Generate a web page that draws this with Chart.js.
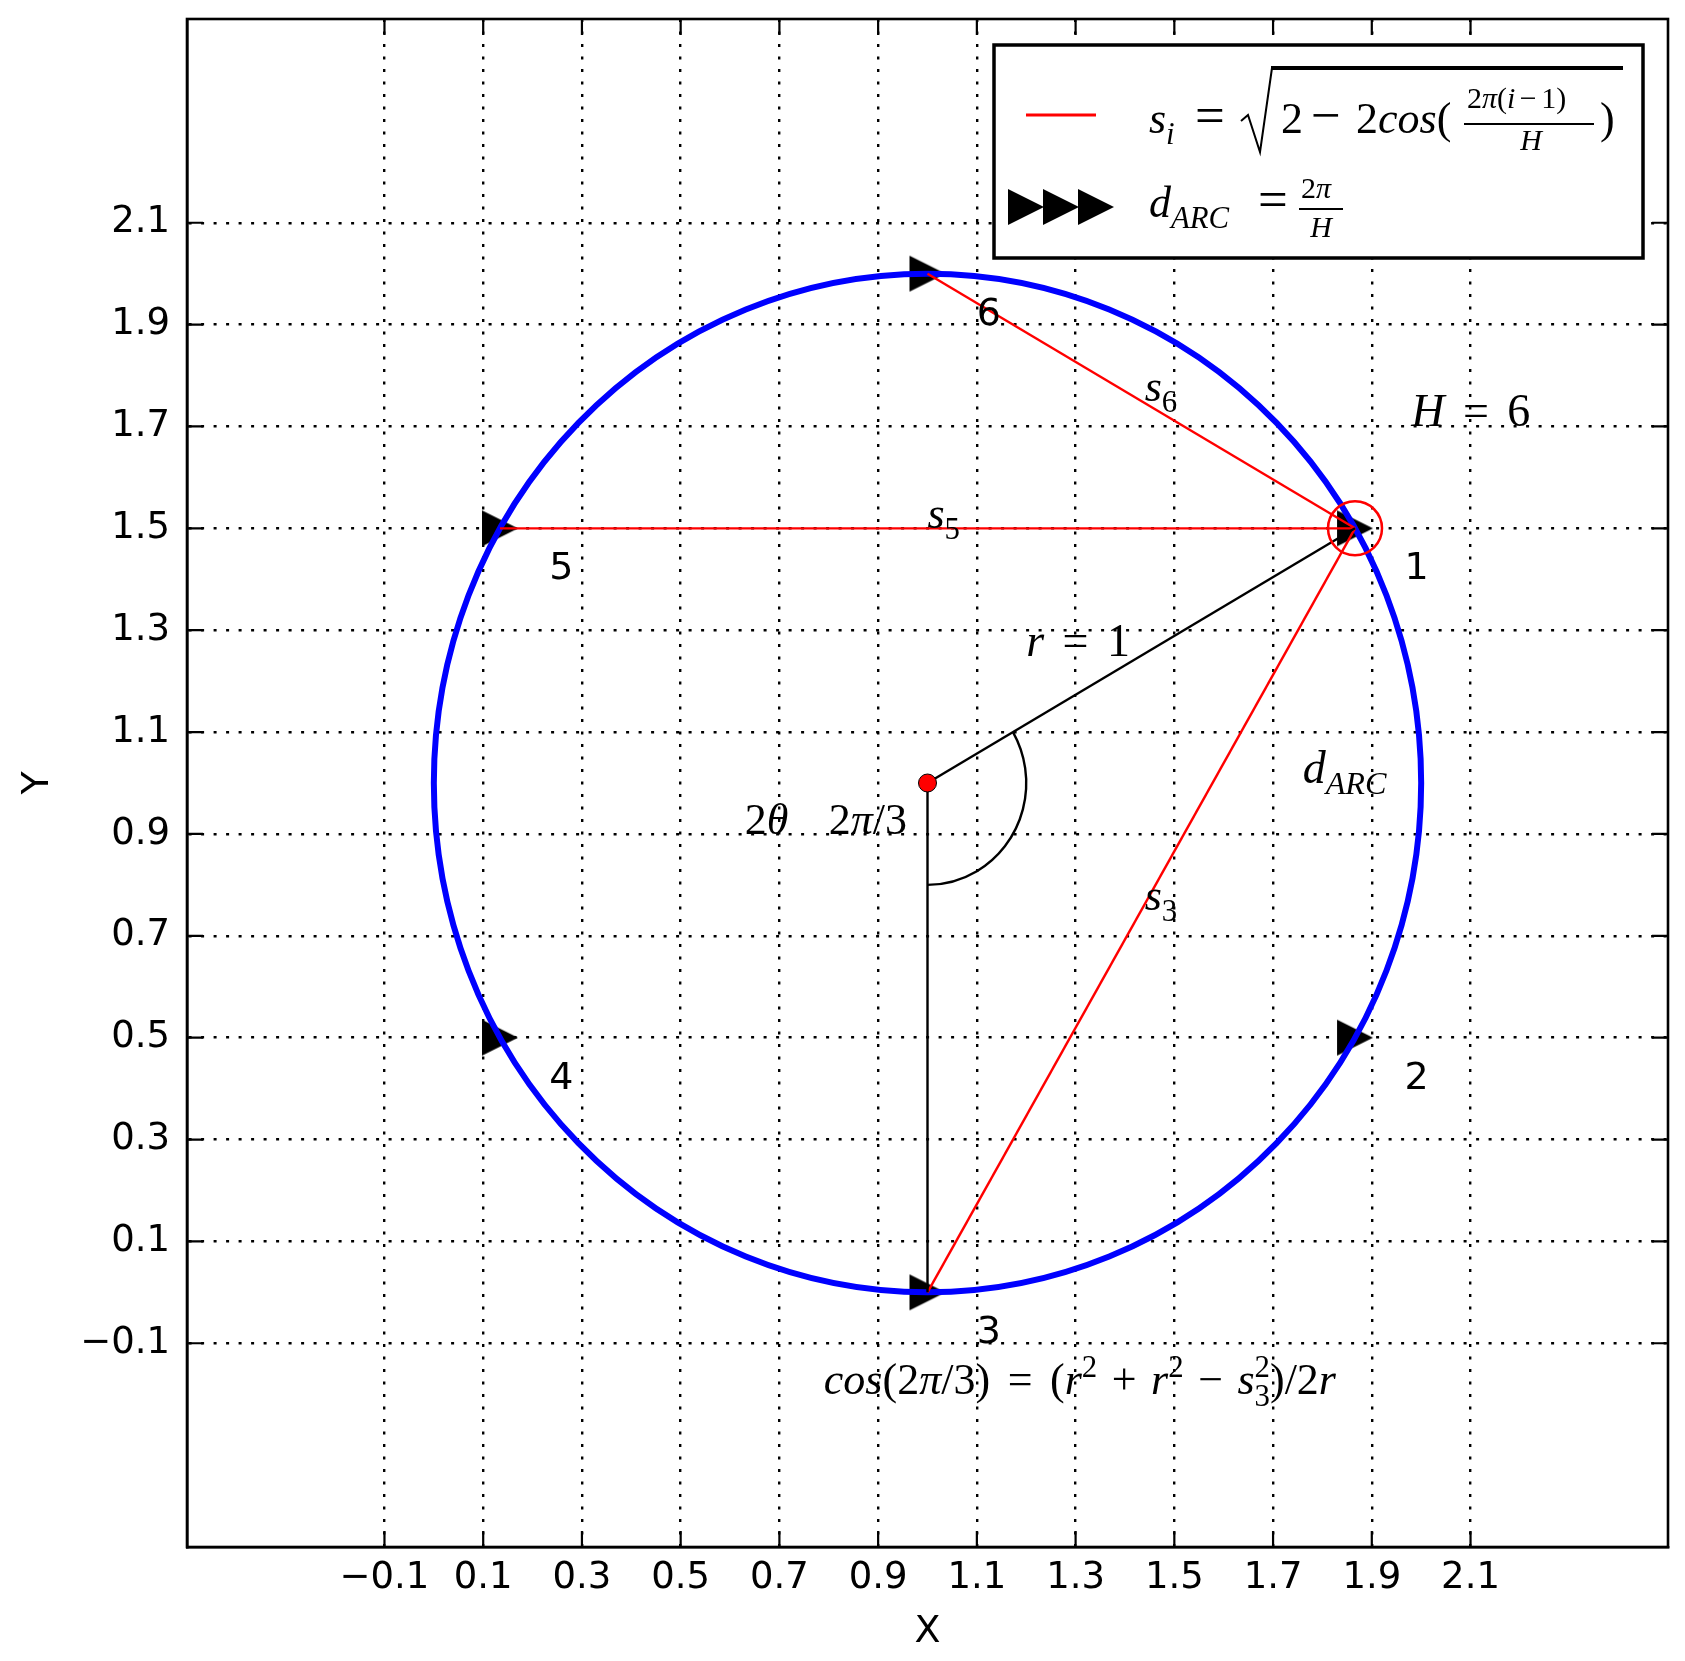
<!DOCTYPE html>
<html><head><meta charset="utf-8">
<script src="https://cdn.jsdelivr.net/npm/chart.js@4.4.1/dist/chart.umd.min.js"></script>
<style>html,body{margin:0;padding:0;background:#fff;} canvas{display:block;}</style>
</head><body>
<canvas id="c" width="1685" height="1661" style="width:1685px;height:1661px"></canvas>
<script>
// ---------- data ----------
const xTicks = [-0.1, 0.1, 0.3, 0.5, 0.7, 0.9, 1.1, 1.3, 1.5, 1.7, 1.9, 2.1];
const xTickLabels = ['−0.1', '0.1', '0.3', '0.5', '0.7', '0.9', '1.1', '1.3', '1.5', '1.7', '1.9', '2.1'];
const yTicks = [-0.1, 0.1, 0.3, 0.5, 0.7, 0.9, 1.1, 1.3, 1.5, 1.7, 1.9, 2.1];
const yTickLabels = ['−0.1', '0.1', '0.3', '0.5', '0.7', '0.9', '1.1', '1.3', '1.5', '1.7', '1.9', '2.1'];
const xRange = [-0.5, 2.5];
const yRange = [-0.5, 2.5];

const pointX = [1.866, 1.866, 1.0, 0.134, 0.134, 1.0];
const pointY = [1.5, 0.5, 0.0, 0.5, 1.5, 2.0];
const pointNames = ['1', '2', '3', '4', '5', '6'];
const pointLabelX = [1.966, 1.966, 1.1, 0.234, 0.234, 1.1];
const pointLabelY = [1.4, 0.4, -0.1, 0.4, 1.4, 1.9];

const chordS6X = [1.866, 1.0];   const chordS6Y = [1.5, 2.0];
const chordS5X = [1.866, 0.134]; const chordS5Y = [1.5, 1.5];
const chordS3X = [1.866, 1.0];   const chordS3Y = [1.5, 0.0];
const radiusX = [1.0, 1.866];    const radiusY = [1.0, 1.5];
const dropX = [1.0, 1.0];        const dropY = [1.0, 0.0];
const centerX = [1.0];           const centerY = [1.0];
const highlightX = [1.866];      const highlightY = [1.5];

const circleCx = 1.0, circleCy = 1.0, circleR = 1.0;
const arcR = 0.2, arcFromDeg = -90, arcToDeg = 30;

// math annotations: [text, kind]  kinds: i italic, r roman, sb sub italic, sbr sub roman, sp sup, ss sub|sup, g gap(em)
const annotations = [
  {x: 1.44, y: 1.75, size: 44, parts: [['s','i'], ['6','sbr']]},
  {x: 1.0,  y: 1.5,  size: 44, parts: [['s','i'], ['5','sbr']]},
  {x: 1.44, y: 0.75, size: 44, parts: [['s','i'], ['3','sbr']]},
  {x: 1.2,  y: 1.25, size: 46, parts: [['r','i'], [0.4,'g'], ['=','r'], [0.4,'g'], ['1','r']]},
  {x: 1.98, y: 1.7,  size: 46, parts: [['H','i'], [0.4,'g'], ['=','r'], [0.4,'g'], ['6','r']]},
  {x: 1.76, y: 1.0,  size: 46, parts: [['d','i'], ['ARC','sb']]},
  {x: 0.63, y: 0.9,  size: 44, parts: [['2','r'], ['θ','i']]},
  {x: 0.8,  y: 0.9,  size: 44, parts: [['2','r'], ['π','i'], ['/','r'], ['3','r']]},
  {x: 0.79, y: -0.2, size: 44, parts: [['cos','i'], ['(','r'], ['2','r'], ['π','i'], ['/','r'], ['3','r'], [')','r'],
      [0.4,'g'], ['=','r'], [0.4,'g'], ['(','r'], ['r','i'], ['2','sp'], [0.33,'g'], ['+','r'], [0.33,'g'],
      ['r','i'], ['2','sp'], [0.33,'g'], ['−','r'], [0.33,'g'], ['s','i'], ['3|2','ss'], [')','r'], ['/','r'], ['2','r'], ['r','i']]}
];

// ---------- helpers ----------
const toXY = (xs, ys) => xs.map((x, i) => ({x: x, y: ys[i]}));
function mathFont(size, italic) {
  return (italic ? 'italic ' : '') + size + 'px "Liberation Serif", "DejaVu Serif", serif';
}
function drawMath(ctx, parts, x, y, size) {
  let cx = x;
  ctx.textAlign = 'left';
  ctx.textBaseline = 'alphabetic';
  for (const p of parts) {
    const t = p[0], k = p[1];
    if (k === 'g') { cx += t * size; continue; }
    if (k === 'ss') {
      const ab = t.split('|');
      const s = size * 0.7;
      ctx.font = mathFont(s, false);
      const w1 = ctx.measureText(ab[0]).width, w2 = ctx.measureText(ab[1]).width;
      ctx.fillText(ab[0], cx, y + size * 0.27);
      ctx.fillText(ab[1], cx, y - size * 0.4);
      cx += Math.max(w1, w2);
      continue;
    }
    let s = size, dy = 0, it = false;
    if (k === 'i') it = true;
    if (k === 'sb') { s = size * 0.7; dy = size * 0.24; it = true; }
    if (k === 'sbr') { s = size * 0.7; dy = size * 0.24; }
    if (k === 'sp') { s = size * 0.7; dy = -size * 0.4; }
    ctx.font = mathFont(s, it);
    ctx.fillText(t, cx, y + dy);
    cx += ctx.measureText(t).width;
  }
  return cx;
}
function centeredText(ctx, t, cx, y, size, italic) {
  ctx.font = mathFont(size, italic);
  ctx.textAlign = 'center';
  ctx.textBaseline = 'alphabetic';
  ctx.fillText(t, cx, y);
}
function makeTriangle(w, h) {
  const c = document.createElement('canvas');
  c.width = w; c.height = h;
  const g = c.getContext('2d');
  g.fillStyle = '#000';
  g.beginPath();
  g.moveTo(1, 1); g.lineTo(w - 1, h / 2); g.lineTo(1, h - 1);
  g.closePath(); g.fill();
  return c;
}
const triangle = makeTriangle(38, 38);

// ---------- plugin ----------
const drawPlugin = {
  id: 'drawPlugin',
  beforeDatasetsDraw(chart) {
    const {ctx, chartArea: a, scales: {x, y}} = chart;
    ctx.save();
    ctx.strokeStyle = '#000';
    ctx.lineWidth = 2.2;
    const tl = 16;
    ctx.beginPath();
    xTicks.forEach(v => {
      const px = x.getPixelForValue(v);
      ctx.moveTo(px, a.bottom); ctx.lineTo(px, a.bottom - tl);
      ctx.moveTo(px, a.top); ctx.lineTo(px, a.top + tl);
    });
    yTicks.forEach(v => {
      const py = y.getPixelForValue(v);
      ctx.moveTo(a.left, py); ctx.lineTo(a.left + tl, py);
      ctx.moveTo(a.right, py); ctx.lineTo(a.right - tl, py);
    });
    ctx.stroke();
    ctx.restore();
  },
  afterDatasetDraw(chart, args) {
    if (args.index !== 0) return;
    const {ctx, chartArea: a, scales: {x, y}} = chart;
    const cx = x.getPixelForValue(circleCx), cy = y.getPixelForValue(circleCy);
    ctx.save();
    ctx.beginPath();
    ctx.rect(a.left, a.top, a.right - a.left, a.bottom - a.top);
    ctx.clip();
    // blue circle
    const rx = x.getPixelForValue(circleCx + circleR) - cx;
    const ry = cy - y.getPixelForValue(circleCy + circleR);
    ctx.strokeStyle = '#0000ff';
    ctx.lineWidth = 6;
    ctx.beginPath();
    ctx.ellipse(cx, cy, rx, ry, 0, 0, Math.PI * 2);
    ctx.stroke();
    // angle arc
    const arx = x.getPixelForValue(circleCx + arcR) - cx;
    const ary = cy - y.getPixelForValue(circleCy + arcR);
    ctx.strokeStyle = '#000';
    ctx.lineWidth = 2.4;
    ctx.beginPath();
    ctx.ellipse(cx, cy, arx, ary, 0, -arcToDeg * Math.PI / 180, -arcFromDeg * Math.PI / 180);
    ctx.stroke();
    ctx.restore();
  },
  afterDatasetsDraw(chart) {
    const {ctx, chartArea: a, scales: {x, y}} = chart;
    ctx.save();
    // frame
    ctx.strokeStyle = '#000';
    ctx.lineWidth = 2.6;
    ctx.strokeRect(a.left, a.top, a.right - a.left, a.bottom - a.top);
    // point number labels
    ctx.fillStyle = '#000';
    ctx.font = '38px "DejaVu Sans"';
    ctx.textAlign = 'left';
    ctx.textBaseline = 'alphabetic';
    pointNames.forEach((n, i) => {
      ctx.fillText(n, x.getPixelForValue(pointLabelX[i]), y.getPixelForValue(pointLabelY[i]));
    });
    // math annotations
    annotations.forEach(an => {
      drawMath(ctx, an.parts, x.getPixelForValue(an.x), y.getPixelForValue(an.y), an.size);
    });
    // axis titles
    ctx.font = '38px "DejaVu Sans"';
    ctx.textAlign = 'center';
    ctx.textBaseline = 'middle';
    ctx.fillText('X', (a.left + a.right) / 2, 1632);
    ctx.save();
    ctx.translate(38, (a.top + a.bottom) / 2);
    ctx.rotate(-Math.PI / 2);
    ctx.fillText('Y', 0, 0);
    ctx.restore();

    // legend
    const lx = a.right - 674, ly = a.top + 26, lw = 649, lh = 213;
    ctx.fillStyle = '#fff';
    ctx.fillRect(lx, ly, lw, lh);
    ctx.strokeStyle = '#000';
    ctx.lineWidth = 3.5;
    ctx.strokeRect(lx, ly, lw, lh);
    ctx.fillStyle = '#000';
    // entry 1 handle
    ctx.strokeStyle = '#ff0000';
    ctx.lineWidth = 3;
    ctx.beginPath(); ctx.moveTo(lx + 32, ly + 70); ctx.lineTo(lx + 102, ly + 70); ctx.stroke();
    // entry 1 label: s_i = sqrt(2 - 2cos(2pi(i-1)/H))
    const S = 44, b1 = ly + 88;
    drawMath(ctx, [['s','i'], ['i','sb']], lx + 155, b1, S);
    drawMath(ctx, [['=','r']], lx + 201, b1, S * 1.2);
    ctx.strokeStyle = '#000';
    ctx.lineWidth = 2;
    ctx.beginPath();
    ctx.moveTo(lx + 247, ly + 76); ctx.lineTo(lx + 254, ly + 70);
    ctx.lineTo(lx + 266, ly + 107); ctx.lineTo(lx + 278, ly + 23);
    ctx.stroke();
    ctx.lineWidth = 4;
    ctx.beginPath(); ctx.moveTo(lx + 277, ly + 23); ctx.lineTo(lx + 629, ly + 23); ctx.stroke();
    drawMath(ctx, [['2','r']], lx + 287, b1, S);
    drawMath(ctx, [['−','r']], lx + 317, b1, S * 1.2);
    drawMath(ctx, [['2','r'], ['cos','i'], ['(','r']], lx + 362, b1, S);
    // fraction
    const fs = 30;
    drawMath(ctx, [['2','r'], ['π','i'], ['(','r'], ['i','i'], [0.15,'g'], ['−','r'], [0.15,'g'], ['1','r'], [')','r']], lx + 473, ly + 63, fs);
    ctx.lineWidth = 2;
    ctx.beginPath(); ctx.moveTo(lx + 470, ly + 79); ctx.lineTo(lx + 600, ly + 79); ctx.stroke();
    centeredText(ctx, 'H', lx + 537, ly + 105, fs, true);
    drawMath(ctx, [[')','r']], lx + 606, b1, S);
    // entry 2 handle: three triangles
    [32, 67, 102].forEach(dx => ctx.drawImage(triangle, lx + dx - 19, ly + 162 - 19));
    // entry 2 label: d_ARC = 2pi/H
    const b2 = ly + 172;
    drawMath(ctx, [['d','i'], ['ARC','sb']], lx + 155, b2, S);
    drawMath(ctx, [['=','r']], lx + 264, b2, S * 1.2);
    drawMath(ctx, [['2','r'], ['π','i']], lx + 307, ly + 153, fs);
    ctx.lineWidth = 2;
    ctx.beginPath(); ctx.moveTo(lx + 305, ly + 164); ctx.lineTo(lx + 349, ly + 164); ctx.stroke();
    centeredText(ctx, 'H', lx + 327, ly + 192, fs, true);
    ctx.restore();
  }
};

// ---------- chart ----------
const gridOpts = {color: '#000', lineWidth: 2.4, drawTicks: false};
const borderOpts = {display: true, color: '#000', width: 2.6, dash: [3, 9.5]};
const tickFont = {family: 'DejaVu Sans', size: 37};

new Chart(document.getElementById('c').getContext('2d'), {
  type: 'scatter',
  data: {
    datasets: [
      {label: 'points', data: toXY(pointX, pointY), pointStyle: triangle, pointRadius: 18, order: 10, showLine: false},
      {label: 's6', data: toXY(chordS6X, chordS6Y), showLine: true, borderColor: '#ff0000', borderWidth: 2.4, pointRadius: 0, order: 6},
      {label: 's5', data: toXY(chordS5X, chordS5Y), showLine: true, borderColor: '#ff0000', borderWidth: 2.4, pointRadius: 0, order: 6},
      {label: 's3', data: toXY(chordS3X, chordS3Y), showLine: true, borderColor: '#ff0000', borderWidth: 2.4, pointRadius: 0, order: 6},
      {label: 'radius', data: toXY(radiusX, radiusY), showLine: true, borderColor: '#000', borderWidth: 2.4, pointRadius: 0, order: 5},
      {label: 'drop', data: toXY(dropX, dropY), showLine: true, borderColor: '#000', borderWidth: 2.4, pointRadius: 0, order: 5},
      {label: 'center', data: toXY(centerX, centerY), pointRadius: 9, pointBackgroundColor: '#ff0000', pointBorderColor: '#000', pointBorderWidth: 1, order: 2},
      {label: 'highlight', data: toXY(highlightX, highlightY), pointRadius: 27, pointBackgroundColor: 'rgba(0,0,0,0)', pointBorderColor: '#ff0000', pointBorderWidth: 2.5, order: 1}
    ]
  },
  options: {
    responsive: false,
    animation: false,
    devicePixelRatio: 1,
    layout: {autoPadding: false, padding: {left: 0, right: 17, top: 19, bottom: 0}},
    plugins: {legend: {display: false}, tooltip: {enabled: false}, title: {display: false}},
    events: [],
    scales: {
      x: {
        type: 'linear', min: xRange[0], max: xRange[1],
        afterBuildTicks: s => { s.ticks = xTicks.map(v => ({value: v})); },
        afterFit: s => { s.height = 114; s.paddingLeft = 0; s.paddingRight = 0; },
        grid: gridOpts, border: borderOpts,
        ticks: {callback: (v, i) => xTickLabels[i], font: tickFont, color: '#000', padding: 9, maxRotation: 0, autoSkip: false}
      },
      y: {
        type: 'linear', min: yRange[0], max: yRange[1],
        afterBuildTicks: s => { s.ticks = yTicks.map(v => ({value: v})); },
        afterFit: s => { s.width = 187; s.paddingTop = 0; s.paddingBottom = 0; },
        grid: gridOpts, border: borderOpts,
        ticks: {callback: (v, i) => yTickLabels[i], font: tickFont, color: '#000', padding: 17, autoSkip: false}
      }
    }
  },
  plugins: [drawPlugin]
});
</script>
</body></html>
